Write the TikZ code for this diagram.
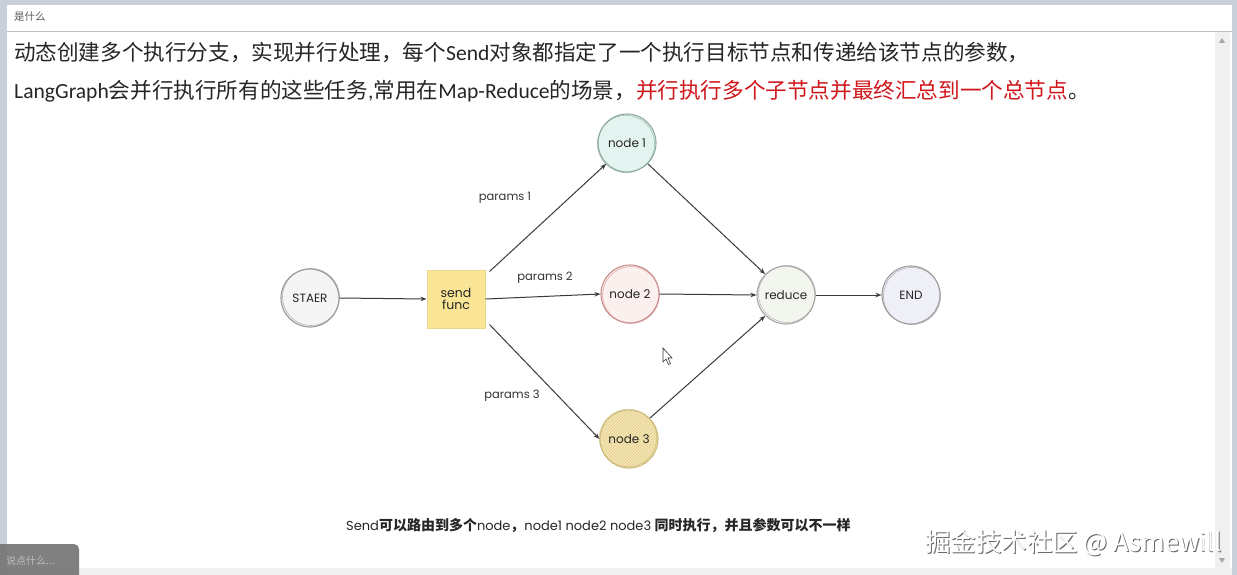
\documentclass[tikz,border=0pt]{standalone}
\usepackage{fontspec}
\setmainfont{Carlito}
\newfontfamily\cjk{Noto Sans CJK SC}
\newfontfamily\hand{Poppins}
\usetikzlibrary{arrows.meta,patterns}
\definecolor{frame}{HTML}{C9D0D9}
\definecolor{txtred}{HTML}{D0161B}
\definecolor{edgec}{HTML}{3A3A3A}
\definecolor{sendfill}{RGB}{250,228,150}
\definecolor{senddraw}{RGB}{235,215,140}
\definecolor{nadraw}{RGB}{140,170,160}
\definecolor{nafill}{RGB}{227,244,240}
\definecolor{nbdraw}{RGB}{205,140,140}
\definecolor{nbfill}{RGB}{251,240,238}
\definecolor{ncdraw}{RGB}{200,184,120}
\definecolor{ncfill}{RGB}{244,230,180}
\definecolor{nchatch}{RGB}{225,205,140}
\definecolor{rdfill}{RGB}{243,246,238}
\definecolor{enfill}{RGB}{239,239,247}
\tikzset{
  gnode/.style={circle, minimum size=58pt, inner sep=0pt, line width=1.1pt, font=\hand\fontsize{12}{14}\selectfont, text=black!85},
  conn/.style={edgec, line width=1pt, -{Stealth[length=6pt,width=4.5pt]}},
  plabel/.style={font=\hand\fontsize{11.5}{13}\selectfont, text=black!80},
  rough/.style={line width=0.6pt, opacity=0.7}
}
\begin{document}
\begin{tikzpicture}[x=1pt,y=-1pt]
\useasboundingbox (0,0) rectangle (1237,575);
\clip (0,0) rectangle (1237,575);
% frame and window
\fill[frame] (0,0) rectangle (1237,575);
\fill[white] (7,5) rectangle (1232,31);
\draw[black!25, line width=0.8pt] (7,31.5) -- (1232,31.5);
\fill[white] (7,32) rectangle (1232,568);
\fill[black!6] (7,568) rectangle (1232,575);
\fill[black!6] (1215,32) rectangle (1230,568);
\fill[black!35] (1219,43) -- (1225,43) -- (1222,38) -- cycle;
\fill[black!35] (1219,558) -- (1225,558) -- (1222,563) -- cycle;
\node[anchor=west, inner sep=0pt, text=black!65, font=\cjk\fontsize{10.5}{12}\selectfont] (hdr) at (14,17) {是什么};

% explanation text
\node[anchor=west, inner sep=0pt, text=black!85, font=\cjk\fontsize{21.6}{26}\selectfont] (line1) at (14,53)
  {动态创建多个执行分支，实现并行处理，每个{\rmfamily Send}对象都指定了一个执行目标节点和传递给该节点的参数，};
\node[anchor=west, inner sep=0pt, text=black!85, font=\cjk\fontsize{21.6}{26}\selectfont] (line2) at (14,91)
  {{\rmfamily LangGraph}会并行执行所有的这些任务{\rmfamily ,}常用在{\rmfamily Map-Reduce}的场景，\textcolor{txtred}{并行执行多个子节点并最终汇总到一个总节点}。};

% nodes
\node[gnode, draw=black!40, fill=gray!8] (start) at (310,298) {STAER};
\node[rectangle, minimum size=58pt, inner sep=0pt, draw=senddraw, line width=1pt, fill=sendfill, font=\hand\fontsize{12.5}{14}\selectfont, align=center, text=black!85] (send) at (456,299) {send\\[-2pt]func};
\node[gnode, draw=nadraw, fill=nafill] (n1) at (627,143) {node 1};
\node[gnode, draw=nbdraw, fill=nbfill] (n2) at (630,294) {node 2};
\node[gnode, draw=ncdraw, fill=ncfill, postaction={pattern=north east lines, pattern color=nchatch}] (n3) at (629,439) {node 3};
\node[gnode, draw=black!35, fill=rdfill] (red) at (786,295) {reduce};
\node[gnode, draw=black!38, fill=enfill] (end) at (911,295) {END};

% rough second strokes
\draw[rough, black!40] (start.center) ++(1,-1) circle (28.5);
\draw[rough, nadraw] (n1.center) ++(-1,1) circle (28.6);
\draw[rough, nbdraw] (n2.center) ++(1,1) circle (28.4);
\draw[rough, ncdraw] (n3.center) ++(-1,-1) circle (28.7);
\draw[rough, black!35] (red.center) ++(1,-1) circle (28.5);
\draw[rough, black!38] (end.center) ++(1,1) circle (28.6);

% connectors
\draw[conn] (start.east) -- (send.west);
\coordinate (s1) at ([shift={(4,2)}]send.north east);
\coordinate (s3) at ([shift={(4,-4)}]send.south east);
\draw[conn] (s1) -- (n1.south west);
\draw[conn] (send.east) -- (n2.west);
\draw[conn] (s3) -- (n3.west);
\draw[conn] (n1.south east) -- (red.north west);
\draw[conn] (n2.east) -- (red.west);
\draw[conn] (n3.north east) -- (red.south west);
\draw[conn] (red.east) -- (end.west);

% edge labels
\node[plabel] (p1) at (505,198) {params 1};
\node[plabel] (p2) at (545,278) {params 2};
\node[plabel] (p3) at (512,396) {params 3};

% mouse cursor
\draw[black!80, fill=white, line width=0.6pt] (663,348) -- (663,362) -- (666,359) -- (668.5,364.5) -- (670.5,363.5) -- (668,358) -- (672,358) -- cycle;

% caption
\node[anchor=west, inner sep=0pt, text=black!85] (cap) at (346,525)
  {{\hand\fontsize{13}{15}\selectfont Send}{\cjk\bfseries\fontsize{14}{16}\selectfont 可以路由到多个}{\hand\fontsize{13}{15}\selectfont node}{\cjk\bfseries\fontsize{14}{16}\selectfont ，}{\hand\fontsize{13}{15}\selectfont node1 node2 node3 }{\cjk\bfseries\fontsize{14}{16}\selectfont 同时执行，并且参数可以不一样}};

% comment box
\fill[black!55, opacity=0.9, rounded corners=5pt] (-6,544) rectangle (79,582);
\node[anchor=west, inner sep=0pt, text=black!25, font=\cjk\fontsize{10}{12}\selectfont] (say) at (6,561) {说点什么...};

% watermark
\node[anchor=west, inner sep=0pt, text=black!60, font=\cjk\fontsize{25.5}{28}\selectfont] (wms) at (925.8,543.8) {掘金技术社区 @ Asmewill};
\node[anchor=west, inner sep=0pt, text=white, font=\cjk\fontsize{25.5}{28}\selectfont] (wm) at (925,543) {掘金技术社区 @ Asmewill};
\end{tikzpicture}
\end{document}
